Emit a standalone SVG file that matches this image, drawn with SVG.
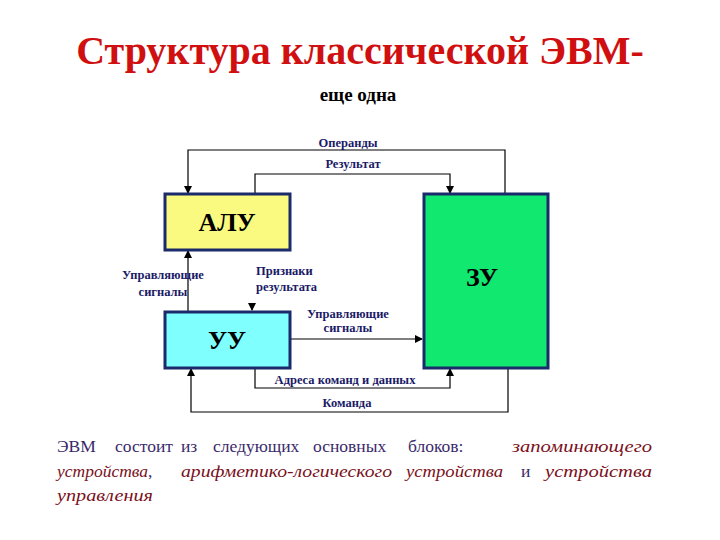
<svg xmlns="http://www.w3.org/2000/svg" width="720" height="540" viewBox="0 0 720 540">
<style>
.box{stroke:#1a2a6a;stroke-width:3}
.ln{fill:none;stroke:#000;stroke-width:1.2}
.lb{font-family:"Liberation Serif",serif;font-weight:bold;font-size:12.5px;fill:#1a1a66}
.bt{font-family:"Liberation Serif",serif;font-weight:bold;font-size:26px;fill:#000;text-anchor:middle}
.p{font-family:"Liberation Serif",serif;font-size:17.5px;fill:#3a2a6a}
.i{font-style:italic;fill:#7a1020}
</style>
<defs><marker id="a" markerWidth="8" markerHeight="8" refX="7" refY="4" orient="auto" markerUnits="userSpaceOnUse"><path d="M0,0L8,4L0,8z" fill="#000"/></marker></defs>
<rect width="720" height="540" fill="#fff"/>
<text x="360" y="64" text-anchor="middle" font-family="Liberation Serif,serif" font-weight="bold" font-size="40" fill="#d01010">Структура классической ЭВМ-</text>
<text x="358" y="101" text-anchor="middle" font-family="Liberation Serif,serif" font-weight="bold" font-size="19" fill="#000">еще одна</text>
<g id="connectors">
<path class="ln" d="M505,194V150H188V193" marker-end="url(#a)"/>
<path class="ln" d="M255,194V174H450V193" marker-end="url(#a)"/>
<path class="ln" d="M188,312V251" marker-end="url(#a)"/>
<path class="ln" d="M252,303V310" marker-end="url(#a)"/>
<path class="ln" d="M290,339H422" marker-end="url(#a)"/>
<path class="ln" d="M255,368V388H450V369" marker-end="url(#a)"/>
<path class="ln" d="M508,368V412H191V369" marker-end="url(#a)"/>
<text class="lb" x="348" y="147" text-anchor="middle">Операнды</text>
<text class="lb" x="353" y="168" text-anchor="middle">Результат</text>
<text class="lb" x="163" y="279" text-anchor="middle">Управляющие</text>
<text class="lb" x="163" y="296" text-anchor="middle">сигналы</text>
<text class="lb" x="256" y="275">Признаки</text>
<text class="lb" x="256" y="291">результата</text>
<text class="lb" x="348" y="318" text-anchor="middle">Управляющие</text>
<text class="lb" x="348" y="332" text-anchor="middle">сигналы</text>
<text class="lb" x="345" y="384" text-anchor="middle">Адреса команд и данных</text>
<text class="lb" x="347" y="407" text-anchor="middle">Команда</text>
</g>
<g id="alu"><rect class="box" x="165" y="194" width="125" height="56" fill="#fafa80"/><text class="bt" x="227" y="231">АЛУ</text></g>
<g id="uu"><rect class="box" x="165" y="312" width="125" height="56" fill="#80ffff"/><text class="bt" x="227" y="349">УУ</text></g>
<g id="zu"><rect class="box" x="424" y="194" width="124" height="174" fill="#10e870"/><text class="bt" x="482" y="286">ЗУ</text></g>
<text class="p" y="452"><tspan x="57">ЭВМ</tspan><tspan x="115">состоит</tspan><tspan x="181">из</tspan><tspan x="213">следующих</tspan><tspan x="313">основных</tspan><tspan x="408">блоков:</tspan><tspan class="i" x="512" textLength="140" lengthAdjust="spacingAndGlyphs">запоминающего</tspan></text>
<text class="p" y="477"><tspan class="i" x="57" textLength="91" lengthAdjust="spacingAndGlyphs">устройства</tspan><tspan>,</tspan><tspan class="i" x="181" textLength="211" lengthAdjust="spacingAndGlyphs">арифметико-логического</tspan><tspan class="i" x="406" textLength="97" lengthAdjust="spacingAndGlyphs">устройства</tspan><tspan x="521">и</tspan><tspan class="i" x="545" textLength="107" lengthAdjust="spacingAndGlyphs">устройства</tspan></text>
<text class="p" y="501"><tspan class="i" x="57" textLength="96" lengthAdjust="spacingAndGlyphs">управления</tspan></text>
</svg>
